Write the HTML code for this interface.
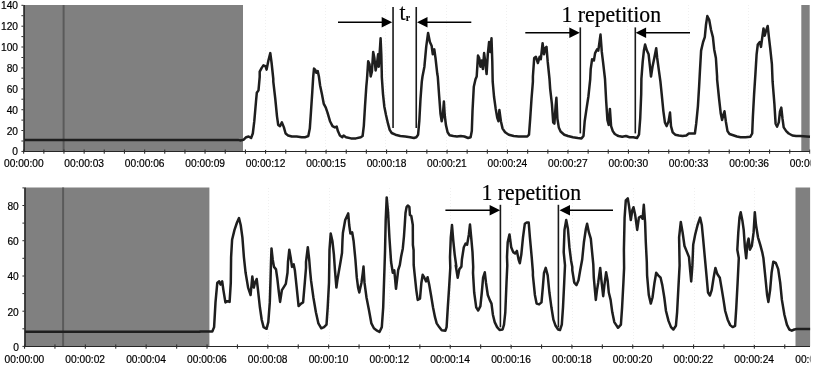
<!DOCTYPE html><html><head><meta charset="utf-8"><title>chart</title><style>html,body{margin:0;padding:0;background:#fff}svg{display:block}text{font-family:"Liberation Sans",sans-serif;font-size:10.2px;fill:#000;stroke:#000;stroke-width:0.2px}.s{font-family:"Liberation Serif",serif}</style></head><body>
<svg width="813" height="365" viewBox="0 0 813 365">
<defs><clipPath id="c"><rect x="0" y="0" width="810.4" height="365"/></clipPath></defs>
<rect width="813" height="365" fill="#fff"/>
<g clip-path="url(#c)">
<rect x="24" y="5" width="219" height="146.3" fill="#808080"/>
<rect x="801.3" y="5" width="8.4" height="146.3" fill="#808080"/>
<rect x="62.6" y="5" width="2" height="146" fill="#5a5a5a"/>
<rect x="23.2" y="5" width="1.8" height="147" fill="#303030"/>
<rect x="23.2" y="151" width="786.8" height="1" fill="#262626"/>
<rect x="21.4" y="150.9" width="2" height="1" fill="#303030"/>
<text x="18" y="155.3" text-anchor="end">0</text>
<rect x="21.4" y="140.5" width="2" height="1" fill="#303030"/>
<rect x="21.4" y="130.0" width="2" height="1" fill="#303030"/>
<text x="18" y="134.5" text-anchor="end">20</text>
<rect x="21.4" y="119.6" width="2" height="1" fill="#303030"/>
<rect x="21.4" y="109.2" width="2" height="1" fill="#303030"/>
<text x="18" y="113.6" text-anchor="end">40</text>
<rect x="21.4" y="98.7" width="2" height="1" fill="#303030"/>
<rect x="21.4" y="88.3" width="2" height="1" fill="#303030"/>
<text x="18" y="92.7" text-anchor="end">60</text>
<rect x="21.4" y="77.8" width="2" height="1" fill="#303030"/>
<rect x="21.4" y="67.4" width="2" height="1" fill="#303030"/>
<text x="18" y="71.9" text-anchor="end">80</text>
<rect x="21.4" y="57.0" width="2" height="1" fill="#303030"/>
<rect x="21.4" y="46.5" width="2" height="1" fill="#303030"/>
<text x="18" y="51.0" text-anchor="end">100</text>
<rect x="21.4" y="36.1" width="2" height="1" fill="#303030"/>
<rect x="21.4" y="25.7" width="2" height="1" fill="#303030"/>
<text x="18" y="30.1" text-anchor="end">120</text>
<rect x="21.4" y="15.2" width="2" height="1" fill="#303030"/>
<rect x="21.4" y="4.8" width="2" height="1" fill="#303030"/>
<text x="18" y="9.2" text-anchor="end">140</text>
<rect x="23.1" y="149.5" width="1.1" height="4.2" fill="#303030"/>
<text x="23.8" y="167.2" text-anchor="middle">00:00:00</text>
<rect x="43.3" y="149.5" width="1.1" height="4.2" fill="#303030"/>
<rect x="63.4" y="149.5" width="1.1" height="4.2" fill="#303030"/>
<rect x="83.6" y="149.5" width="1.1" height="4.2" fill="#303030"/>
<text x="84.2" y="167.2" text-anchor="middle">00:00:03</text>
<rect x="103.7" y="149.5" width="1.1" height="4.2" fill="#303030"/>
<rect x="123.9" y="149.5" width="1.1" height="4.2" fill="#303030"/>
<rect x="144.1" y="149.5" width="1.1" height="4.2" fill="#303030"/>
<text x="144.7" y="167.2" text-anchor="middle">00:00:06</text>
<rect x="164.2" y="149.5" width="1.1" height="4.2" fill="#303030"/>
<rect x="184.4" y="149.5" width="1.1" height="4.2" fill="#303030"/>
<rect x="204.5" y="149.5" width="1.1" height="4.2" fill="#303030"/>
<text x="205.2" y="167.2" text-anchor="middle">00:00:09</text>
<rect x="224.7" y="149.5" width="1.1" height="4.2" fill="#303030"/>
<rect x="244.9" y="149.5" width="1.1" height="4.2" fill="#303030"/>
<rect x="265.0" y="149.5" width="1.1" height="4.2" fill="#303030"/>
<text x="265.6" y="167.2" text-anchor="middle">00:00:12</text>
<rect x="285.2" y="149.5" width="1.1" height="4.2" fill="#303030"/>
<rect x="305.3" y="149.5" width="1.1" height="4.2" fill="#303030"/>
<rect x="325.5" y="149.5" width="1.1" height="4.2" fill="#303030"/>
<text x="326.1" y="167.2" text-anchor="middle">00:00:15</text>
<rect x="345.7" y="149.5" width="1.1" height="4.2" fill="#303030"/>
<rect x="365.8" y="149.5" width="1.1" height="4.2" fill="#303030"/>
<rect x="386.0" y="149.5" width="1.1" height="4.2" fill="#303030"/>
<text x="386.5" y="167.2" text-anchor="middle">00:00:18</text>
<rect x="406.1" y="149.5" width="1.1" height="4.2" fill="#303030"/>
<rect x="426.3" y="149.5" width="1.1" height="4.2" fill="#303030"/>
<rect x="446.5" y="149.5" width="1.1" height="4.2" fill="#303030"/>
<text x="446.9" y="167.2" text-anchor="middle">00:00:21</text>
<rect x="466.6" y="149.5" width="1.1" height="4.2" fill="#303030"/>
<rect x="486.8" y="149.5" width="1.1" height="4.2" fill="#303030"/>
<rect x="506.9" y="149.5" width="1.1" height="4.2" fill="#303030"/>
<text x="507.4" y="167.2" text-anchor="middle">00:00:24</text>
<rect x="527.1" y="149.5" width="1.1" height="4.2" fill="#303030"/>
<rect x="547.3" y="149.5" width="1.1" height="4.2" fill="#303030"/>
<rect x="567.4" y="149.5" width="1.1" height="4.2" fill="#303030"/>
<text x="567.8" y="167.2" text-anchor="middle">00:00:27</text>
<rect x="587.6" y="149.5" width="1.1" height="4.2" fill="#303030"/>
<rect x="607.7" y="149.5" width="1.1" height="4.2" fill="#303030"/>
<rect x="627.9" y="149.5" width="1.1" height="4.2" fill="#303030"/>
<text x="628.3" y="167.2" text-anchor="middle">00:00:30</text>
<rect x="648.1" y="149.5" width="1.1" height="4.2" fill="#303030"/>
<rect x="668.2" y="149.5" width="1.1" height="4.2" fill="#303030"/>
<rect x="688.4" y="149.5" width="1.1" height="4.2" fill="#303030"/>
<text x="688.7" y="167.2" text-anchor="middle">00:00:33</text>
<rect x="708.5" y="149.5" width="1.1" height="4.2" fill="#303030"/>
<rect x="728.7" y="149.5" width="1.1" height="4.2" fill="#303030"/>
<rect x="748.9" y="149.5" width="1.1" height="4.2" fill="#303030"/>
<text x="749.2" y="167.2" text-anchor="middle">00:00:36</text>
<rect x="769.0" y="149.5" width="1.1" height="4.2" fill="#303030"/>
<rect x="789.2" y="149.5" width="1.1" height="4.2" fill="#303030"/>
<rect x="809.3" y="149.5" width="1.1" height="4.2" fill="#303030"/>
<text x="809.6" y="167.2" text-anchor="middle">00:00:39</text>
<line x1="265.5" y1="5" x2="265.5" y2="150" stroke="#f0f0f0" stroke-width="1" stroke-dasharray="1 2"/>
<line x1="325.5" y1="5" x2="325.5" y2="150" stroke="#f0f0f0" stroke-width="1" stroke-dasharray="1 2"/>
<line x1="385.5" y1="5" x2="385.5" y2="150" stroke="#f0f0f0" stroke-width="1" stroke-dasharray="1 2"/>
<line x1="446.5" y1="5" x2="446.5" y2="150" stroke="#f0f0f0" stroke-width="1" stroke-dasharray="1 2"/>
<line x1="506.5" y1="5" x2="506.5" y2="150" stroke="#f0f0f0" stroke-width="1" stroke-dasharray="1 2"/>
<line x1="567.5" y1="5" x2="567.5" y2="150" stroke="#f0f0f0" stroke-width="1" stroke-dasharray="1 2"/>
<line x1="627.5" y1="5" x2="627.5" y2="150" stroke="#f0f0f0" stroke-width="1" stroke-dasharray="1 2"/>
<line x1="688.5" y1="5" x2="688.5" y2="150" stroke="#f0f0f0" stroke-width="1" stroke-dasharray="1 2"/>
<line x1="748.5" y1="5" x2="748.5" y2="150" stroke="#f0f0f0" stroke-width="1" stroke-dasharray="1 2"/>
<polyline points="24.5,139.9 238.0,139.9 240.0,140.4 243.7,139.7 246.2,137.2 248.6,136.5 251.1,138.0 252.8,133.5 254.3,121.2 256.0,101.5 256.8,92.8 258.5,90.4 259.7,76.8 259.7,71.6 261.7,67.9 263.4,65.4 265.4,66.2 266.6,69.6 268.4,60.5 270.3,53.1 271.6,63.0 273.3,79.0 273.3,81.7 275.3,99.0 277.0,116.3 278.2,124.9 280.0,126.1 281.9,122.4 283.9,127.4 285.6,133.5 288.1,135.5 291.8,136.5 296.7,136.5 301.7,137.2 305.4,137.2 308.3,136.0 309.8,128.6 311.0,111.3 312.3,91.6 313.2,76.8 314.0,68.6 315.2,69.6 316.4,72.8 317.7,71.1 318.9,76.5 320.1,85.4 321.9,94.1 323.8,103.9 325.8,107.6 327.5,112.6 330.0,121.2 332.5,126.1 334.9,127.4 336.7,126.6 337.9,131.1 339.9,135.5 342.3,137.2 343.6,135.5 346.0,137.2 351.0,138.4 355.9,138.4 360.8,137.2 362.6,136.0 363.8,126.1 365.0,106.4 366.3,86.7 367.0,79.0 368.2,61.2 369.5,64.2 370.7,76.5 371.9,71.6 373.2,51.9 374.4,58.0 375.6,70.4 376.9,64.2 378.1,54.3 378.8,66.7 380.6,38.3 381.3,54.3 381.8,74.1 381.8,76.8 383.0,94.1 384.3,106.4 386.0,115.0 388.0,123.7 389.7,129.8 391.7,133.0 395.4,134.7 400.3,136.0 405.2,136.5 410.2,137.2 413.9,138.0 416.3,137.2 418.1,134.7 419.3,121.2 420.5,99.0 421.8,81.7 422.5,76.5 424.4,66.7 426.2,46.9 428.1,32.9 429.9,42.0 431.6,45.7 432.8,54.3 434.3,49.4 435.5,58.0 437.3,74.1 437.8,76.8 439.2,96.5 440.5,113.8 441.7,121.2 442.7,116.3 443.9,101.5 444.7,115.0 445.9,124.9 447.6,132.3 449.6,135.2 453.3,136.0 457.0,136.5 460.7,136.0 464.4,136.5 468.1,138.0 470.6,137.2 471.8,131.1 472.5,111.3 473.8,86.7 475.5,79.3 476.7,76.5 478.0,55.6 479.2,58.0 480.4,66.7 481.7,60.5 482.9,69.1 484.1,53.1 485.4,63.0 486.6,74.1 487.8,54.3 489.1,42.0 490.3,51.9 491.5,38.3 492.3,61.7 492.7,81.7 494.0,96.5 495.7,108.9 497.2,117.5 498.4,121.2 499.4,110.1 500.9,121.2 502.6,128.6 505.1,132.3 508.8,134.7 513.7,136.0 518.6,136.5 523.6,136.5 527.3,136.5 529.0,134.7 530.2,118.7 531.5,99.0 532.9,81.7 532.9,76.5 534.2,58.0 535.9,56.8 537.9,63.0 539.6,56.8 540.8,59.3 542.6,43.2 544.0,54.3 545.3,48.2 546.5,46.9 547.7,61.7 549.5,79.0 550.2,89.1 551.9,103.9 553.2,122.4 554.4,123.7 555.6,106.4 556.4,97.8 557.4,118.7 558.8,127.4 560.6,131.5 564.3,134.7 568.0,136.0 572.9,137.2 577.8,138.0 581.5,138.4 583.5,136.0 584.7,121.2 586.5,108.9 588.4,96.5 590.2,79.3 590.7,69.1 592.1,59.3 593.9,60.5 595.1,53.1 597.1,49.4 598.3,50.6 600.5,34.6 601.8,51.9 603.0,61.7 605.0,79.0 606.2,101.5 607.4,120.0 608.7,124.9 609.9,108.9 611.1,126.1 612.8,131.1 614.8,134.0 617.3,135.5 618.5,136.0 622.2,136.7 625.9,136.0 629.6,137.2 633.3,137.2 637.0,138.0 639.0,134.7 640.2,118.7 641.2,94.1 641.4,79.0 642.7,61.7 643.9,50.6 645.1,44.5 646.9,50.6 648.6,54.3 650.1,67.9 651.0,76.5 652.5,66.7 654.3,58.0 656.2,48.2 657.2,58.0 658.7,69.1 660.4,81.4 661.7,94.1 663.4,111.3 664.9,122.4 666.6,126.1 668.6,121.2 670.0,112.6 671.0,126.1 672.7,132.3 675.2,134.7 678.9,135.5 682.6,136.0 686.3,135.5 688.8,133.5 692.5,133.5 694.9,133.5 696.2,123.7 697.9,106.4 699.1,86.7 699.9,71.6 701.1,50.6 703.1,42.0 704.8,37.1 706.0,24.7 707.3,16.1 709.2,19.8 711.0,29.7 712.9,37.1 714.2,49.4 715.9,58.0 717.1,76.5 717.1,79.3 719.1,99.0 720.8,113.8 722.1,120.0 723.3,115.0 724.5,111.3 725.8,121.2 727.5,131.1 729.5,134.0 733.2,135.2 736.9,136.5 740.6,137.2 745.5,137.2 750.4,136.7 752.2,133.5 752.9,116.3 754.1,94.1 755.4,74.1 756.6,54.3 757.8,44.5 759.8,42.0 761.0,46.9 762.3,37.1 763.5,28.4 764.7,35.8 766.0,30.9 767.7,26.0 768.9,37.1 770.2,48.2 771.9,64.2 772.6,81.7 774.4,103.9 775.6,123.7 777.1,126.6 778.8,122.4 780.0,111.3 781.3,107.6 782.5,118.7 783.7,127.4 786.2,131.1 788.7,133.5 792.4,135.5 796.1,136.0 800.0,136.0 810.0,136.8" fill="none" stroke="#1e1e1e" stroke-width="2.5" stroke-linejoin="round"/>
<rect x="392.25" y="7" width="1.6" height="121" fill="#1a1a1a"/>
<rect x="415.45" y="7" width="1.6" height="121" fill="#1a1a1a"/>
<line x1="338" y1="22.3" x2="386.2" y2="22.3" stroke="#000" stroke-width="1.6"/><polygon points="392.2,22.3 381.7,17.1 381.7,27.5" fill="#000"/>
<line x1="423" y1="22.3" x2="471.3" y2="22.3" stroke="#000" stroke-width="1.6"/><polygon points="417,22.3 427.5,17.1 427.5,27.5" fill="#000"/>
<text class="s" transform="translate(399.6,20) scale(0.9325,1)" style="font-size:23.3px">t<tspan style="font-size:10.5px;font-weight:bold" dy="0.9">r</tspan></text>
<text class="s" transform="translate(561.5,21.9) scale(0.9325,1)" style="font-size:23.3px">1 repetition</text>
<rect x="579.50" y="27.4" width="1.6" height="106" fill="#1a1a1a"/>
<rect x="634.50" y="27.4" width="1.6" height="106" fill="#1a1a1a"/>
<line x1="525.3" y1="32.8" x2="573.8" y2="32.8" stroke="#000" stroke-width="1.6"/><polygon points="579.8,32.8 569.3,27.599999999999998 569.3,38.0" fill="#000"/>
<line x1="641.6" y1="32.8" x2="690" y2="32.8" stroke="#000" stroke-width="1.6"/><polygon points="635.6,32.8 646.1,27.599999999999998 646.1,38.0" fill="#000"/>
<rect x="25" y="187.5" width="184.4" height="158.7" fill="#808080"/>
<rect x="795.5" y="187.5" width="14.8" height="158.7" fill="#808080"/>
<rect x="62.1" y="187.5" width="2" height="158.7" fill="#5a5a5a"/>
<rect x="24.1" y="187.5" width="1.8" height="159.5" fill="#303030"/>
<rect x="24.1" y="346" width="785.9" height="1" fill="#262626"/>
<rect x="22.4" y="345.9" width="2" height="1" fill="#303030"/>
<text x="18.8" y="350.7" text-anchor="end">0</text>
<rect x="22.4" y="328.3" width="2" height="1" fill="#303030"/>
<rect x="22.4" y="310.7" width="2" height="1" fill="#303030"/>
<text x="18.8" y="315.5" text-anchor="end">20</text>
<rect x="22.4" y="293.1" width="2" height="1" fill="#303030"/>
<rect x="22.4" y="275.5" width="2" height="1" fill="#303030"/>
<text x="18.8" y="280.3" text-anchor="end">40</text>
<rect x="22.4" y="257.8" width="2" height="1" fill="#303030"/>
<rect x="22.4" y="240.2" width="2" height="1" fill="#303030"/>
<text x="18.8" y="245.0" text-anchor="end">60</text>
<rect x="22.4" y="222.6" width="2" height="1" fill="#303030"/>
<rect x="22.4" y="205.0" width="2" height="1" fill="#303030"/>
<text x="18.8" y="209.8" text-anchor="end">80</text>
<rect x="22.4" y="187.4" width="2" height="1" fill="#303030"/>
<rect x="24.0" y="344.4" width="1.1" height="4.3" fill="#303030"/>
<text x="24.4" y="363.2" text-anchor="middle">00:00:00</text>
<rect x="54.4" y="344.4" width="1.1" height="4.3" fill="#303030"/>
<rect x="84.8" y="344.4" width="1.1" height="4.3" fill="#303030"/>
<text x="85.2" y="363.2" text-anchor="middle">00:00:02</text>
<rect x="115.2" y="344.4" width="1.1" height="4.3" fill="#303030"/>
<rect x="145.6" y="344.4" width="1.1" height="4.3" fill="#303030"/>
<text x="146.0" y="363.2" text-anchor="middle">00:00:04</text>
<rect x="176.1" y="344.4" width="1.1" height="4.3" fill="#303030"/>
<rect x="206.5" y="344.4" width="1.1" height="4.3" fill="#303030"/>
<text x="206.9" y="363.2" text-anchor="middle">00:00:06</text>
<rect x="236.9" y="344.4" width="1.1" height="4.3" fill="#303030"/>
<rect x="267.3" y="344.4" width="1.1" height="4.3" fill="#303030"/>
<text x="267.7" y="363.2" text-anchor="middle">00:00:08</text>
<rect x="297.7" y="344.4" width="1.1" height="4.3" fill="#303030"/>
<rect x="328.1" y="344.4" width="1.1" height="4.3" fill="#303030"/>
<text x="328.5" y="363.2" text-anchor="middle">00:00:10</text>
<rect x="358.5" y="344.4" width="1.1" height="4.3" fill="#303030"/>
<rect x="388.9" y="344.4" width="1.1" height="4.3" fill="#303030"/>
<text x="389.3" y="363.2" text-anchor="middle">00:00:12</text>
<rect x="419.3" y="344.4" width="1.1" height="4.3" fill="#303030"/>
<rect x="449.7" y="344.4" width="1.1" height="4.3" fill="#303030"/>
<text x="450.1" y="363.2" text-anchor="middle">00:00:14</text>
<rect x="480.1" y="344.4" width="1.1" height="4.3" fill="#303030"/>
<rect x="510.6" y="344.4" width="1.1" height="4.3" fill="#303030"/>
<text x="511.0" y="363.2" text-anchor="middle">00:00:16</text>
<rect x="541.0" y="344.4" width="1.1" height="4.3" fill="#303030"/>
<rect x="571.4" y="344.4" width="1.1" height="4.3" fill="#303030"/>
<text x="571.8" y="363.2" text-anchor="middle">00:00:18</text>
<rect x="601.8" y="344.4" width="1.1" height="4.3" fill="#303030"/>
<rect x="632.2" y="344.4" width="1.1" height="4.3" fill="#303030"/>
<text x="632.6" y="363.2" text-anchor="middle">00:00:20</text>
<rect x="662.6" y="344.4" width="1.1" height="4.3" fill="#303030"/>
<rect x="693.0" y="344.4" width="1.1" height="4.3" fill="#303030"/>
<text x="693.4" y="363.2" text-anchor="middle">00:00:22</text>
<rect x="723.4" y="344.4" width="1.1" height="4.3" fill="#303030"/>
<rect x="753.8" y="344.4" width="1.1" height="4.3" fill="#303030"/>
<text x="754.2" y="363.2" text-anchor="middle">00:00:24</text>
<rect x="784.2" y="344.4" width="1.1" height="4.3" fill="#303030"/>
<rect x="814.7" y="344.4" width="1.1" height="4.3" fill="#303030"/>
<text x="815.1" y="363.2" text-anchor="middle">00:00:26</text>
<line x1="268.5" y1="188" x2="268.5" y2="345" stroke="#f0f0f0" stroke-width="1" stroke-dasharray="1 2"/>
<line x1="329.5" y1="188" x2="329.5" y2="345" stroke="#f0f0f0" stroke-width="1" stroke-dasharray="1 2"/>
<line x1="389.5" y1="188" x2="389.5" y2="345" stroke="#f0f0f0" stroke-width="1" stroke-dasharray="1 2"/>
<line x1="450.5" y1="188" x2="450.5" y2="345" stroke="#f0f0f0" stroke-width="1" stroke-dasharray="1 2"/>
<line x1="511.5" y1="188" x2="511.5" y2="345" stroke="#f0f0f0" stroke-width="1" stroke-dasharray="1 2"/>
<line x1="572.5" y1="188" x2="572.5" y2="345" stroke="#f0f0f0" stroke-width="1" stroke-dasharray="1 2"/>
<line x1="633.5" y1="188" x2="633.5" y2="345" stroke="#f0f0f0" stroke-width="1" stroke-dasharray="1 2"/>
<line x1="694.5" y1="188" x2="694.5" y2="345" stroke="#f0f0f0" stroke-width="1" stroke-dasharray="1 2"/>
<line x1="754.5" y1="188" x2="754.5" y2="345" stroke="#f0f0f0" stroke-width="1" stroke-dasharray="1 2"/>
<polyline points="25.0,331.7 200.0,331.7 200.0,331.5 212.3,331.5 214.1,327.1 215.5,302.4 217.3,282.7 219.2,281.4 220.5,284.6 222.2,281.4 223.4,290.1 225.4,302.4 227.6,301.2 229.6,301.9 230.8,282.7 231.1,257.1 232.1,239.8 234.5,229.9 237.0,222.5 239.0,218.1 240.7,225.0 242.4,237.3 243.9,257.1 245.6,272.8 248.1,287.6 250.6,295.0 252.3,276.5 253.8,287.6 255.0,282.7 256.7,279.0 258.0,290.1 259.9,307.3 261.7,319.7 263.6,327.1 266.6,328.8 268.3,322.1 269.8,302.4 270.5,280.2 271.0,262.0 271.5,248.4 272.7,259.5 274.0,266.9 276.0,269.4 277.2,277.7 278.9,292.5 280.1,301.9 281.9,290.1 283.8,287.1 285.8,283.9 287.5,272.8 288.0,262.0 289.3,249.7 290.8,258.3 292.0,266.9 293.7,264.4 294.9,270.6 296.7,287.6 298.6,306.1 301.1,303.6 303.1,302.4 304.8,282.7 306.0,267.9 306.0,262.0 307.8,247.2 309.2,259.5 310.2,271.8 311.0,280.2 313.4,297.5 315.9,312.3 318.4,323.4 321.3,328.3 324.0,327.1 326.5,324.6 327.7,307.3 329.0,282.7 329.5,249.7 330.7,233.6 332.4,241.0 333.9,254.6 334.9,269.4 336.4,287.6 337.4,280.0 338.8,271.8 340.5,262.0 342.0,253.0 342.5,240.0 342.9,233.0 345.2,220.0 348.2,213.4 349.2,225.0 350.4,233.6 352.2,232.4 353.6,241.0 355.4,259.5 356.8,277.7 358.1,287.6 359.3,292.5 359.8,290.1 361.5,282.7 362.8,272.8 363.5,266.6 364.5,282.7 366.5,297.5 368.9,309.8 371.4,323.4 373.9,328.3 377.1,330.7 379.5,332.0 381.8,327.1 383.2,307.3 384.0,282.7 384.5,267.9 385.0,252.1 385.7,220.1 386.7,197.4 388.1,212.7 389.4,237.3 391.1,262.0 392.8,272.8 394.3,270.3 396.0,288.8 398.2,270.0 399.8,265.1 401.1,256.7 402.8,248.4 404.0,236.0 404.8,224.2 405.5,213.0 406.6,207.0 407.8,205.5 409.4,207.0 409.9,215.0 411.3,216.0 412.8,225.0 412.9,245.0 413.6,250.0 413.7,265.0 414.5,272.8 416.3,290.1 417.7,299.9 420.0,298.7 421.4,282.7 422.7,274.8 424.4,277.7 426.1,281.4 427.6,277.2 429.3,285.1 431.0,295.0 433.0,307.3 435.0,317.2 436.7,323.4 439.2,327.1 441.7,330.3 445.4,330.7 446.6,327.1 447.8,307.3 449.1,287.6 450.3,267.9 450.0,257.1 450.8,237.3 452.0,225.0 453.2,239.8 454.7,254.6 456.4,266.9 455.7,265.4 457.7,277.7 459.4,269.1 461.4,266.6 461.9,259.5 463.8,247.2 465.6,243.5 467.1,244.7 468.8,234.9 470.0,224.5 471.2,237.3 472.5,252.1 473.2,266.9 473.0,272.8 474.2,292.5 476.2,307.3 478.2,310.5 480.4,306.1 481.8,292.5 483.1,277.7 484.8,272.3 486.0,282.7 487.8,295.0 489.7,299.9 491.5,303.6 492.9,314.7 494.7,322.1 497.1,327.1 499.6,330.0 502.6,329.5 504.0,324.6 505.3,312.3 506.5,282.7 507.3,265.4 507.0,257.1 507.7,242.3 509.5,234.4 511.2,247.2 513.2,252.1 515.1,253.4 516.9,250.9 518.6,259.5 519.8,263.2 521.3,254.6 523.0,237.3 524.8,223.8 526.7,222.5 528.7,222.5 529.9,237.3 531.7,257.1 532.9,271.8 532.9,275.3 534.9,295.0 536.6,303.6 539.1,304.4 541.5,302.4 542.8,287.6 544.0,272.8 545.7,267.9 547.7,275.3 549.4,292.5 551.4,307.3 553.4,319.7 555.6,325.8 558.1,329.5 560.0,330.0 561.8,324.6 563.0,307.3 564.2,282.7 565.0,265.4 563.7,252.1 564.5,229.9 566.2,220.1 567.9,228.7 569.4,247.2 571.1,260.7 572.3,266.9 572.3,270.3 574.3,282.7 576.5,285.1 578.5,280.2 580.2,270.3 582.2,259.5 583.9,242.3 585.9,228.7 587.1,223.8 588.9,232.4 590.8,238.6 592.1,252.1 593.3,264.4 593.8,277.7 595.8,299.9 597.0,290.1 598.2,282.7 600.2,267.9 601.4,280.2 603.2,296.2 604.4,285.1 606.1,272.3 607.6,280.2 608.8,292.5 610.6,299.9 612.3,312.3 614.3,322.1 618.0,327.8 620.9,324.6 622.1,307.3 623.4,282.7 624.1,267.9 623.9,249.7 624.6,217.6 625.8,200.3 627.8,198.4 629.1,206.5 630.8,220.1 632.3,210.2 633.5,207.2 635.2,215.1 637.2,229.9 638.9,217.6 640.9,216.4 642.6,218.8 643.8,204.8 645.1,222.5 645.8,242.3 646.8,262.0 647.1,275.3 648.8,295.0 650.8,303.6 652.5,297.5 654.5,282.7 656.2,272.8 658.2,275.3 660.6,277.7 662.3,285.1 664.3,297.5 666.0,311.0 668.5,320.9 671.0,327.1 673.4,329.5 675.9,325.8 677.1,312.3 678.4,287.6 679.6,265.4 679.1,237.3 680.8,222.0 682.6,232.4 684.5,246.0 687.0,252.1 689.0,257.1 690.2,270.6 691.2,281.4 692.4,265.4 693.2,244.7 695.1,234.9 697.6,225.0 700.1,217.6 701.8,225.0 703.0,237.3 704.8,257.1 706.7,277.7 708.0,292.5 709.9,295.5 711.7,290.1 713.6,277.7 715.4,267.9 717.3,274.0 719.8,277.7 721.5,287.6 723.5,299.9 725.2,311.0 727.7,319.7 730.2,325.1 732.6,327.1 735.1,325.8 736.3,307.3 737.6,282.7 738.8,258.0 737.3,249.7 738.3,232.4 739.5,217.6 740.7,212.2 742.5,221.3 743.7,229.9 744.9,247.2 746.2,258.3 747.4,243.5 748.6,238.6 749.9,249.7 751.8,246.0 753.6,232.4 754.8,212.2 756.0,225.0 758.0,237.3 760.2,244.7 762.2,252.1 763.4,258.0 765.4,277.7 767.1,295.0 768.4,301.9 770.1,290.1 771.6,272.8 773.3,261.7 775.8,262.9 778.2,269.1 780.2,282.7 781.9,299.9 784.4,314.7 786.9,324.6 789.3,329.5 791.8,330.7 794.3,329.5 796.7,329.0 810.3,329.0" fill="none" stroke="#1e1e1e" stroke-width="2.5" stroke-linejoin="round"/>
<text class="s" transform="translate(481.5,199.9) scale(0.9325,1)" style="font-size:23.3px">1 repetition</text>
<rect x="499.60" y="204.8" width="1.6" height="122.5" fill="#1a1a1a"/>
<rect x="557.60" y="204.8" width="1.6" height="122.5" fill="#1a1a1a"/>
<line x1="445.4" y1="210.2" x2="494.1" y2="210.2" stroke="#000" stroke-width="1.6"/><polygon points="500.1,210.2 489.6,205.0 489.6,215.39999999999998" fill="#000"/>
<line x1="565.5" y1="210.2" x2="613" y2="210.2" stroke="#000" stroke-width="1.6"/><polygon points="559.5,210.2 570.0,205.0 570.0,215.39999999999998" fill="#000"/>
</g></svg></body></html>
